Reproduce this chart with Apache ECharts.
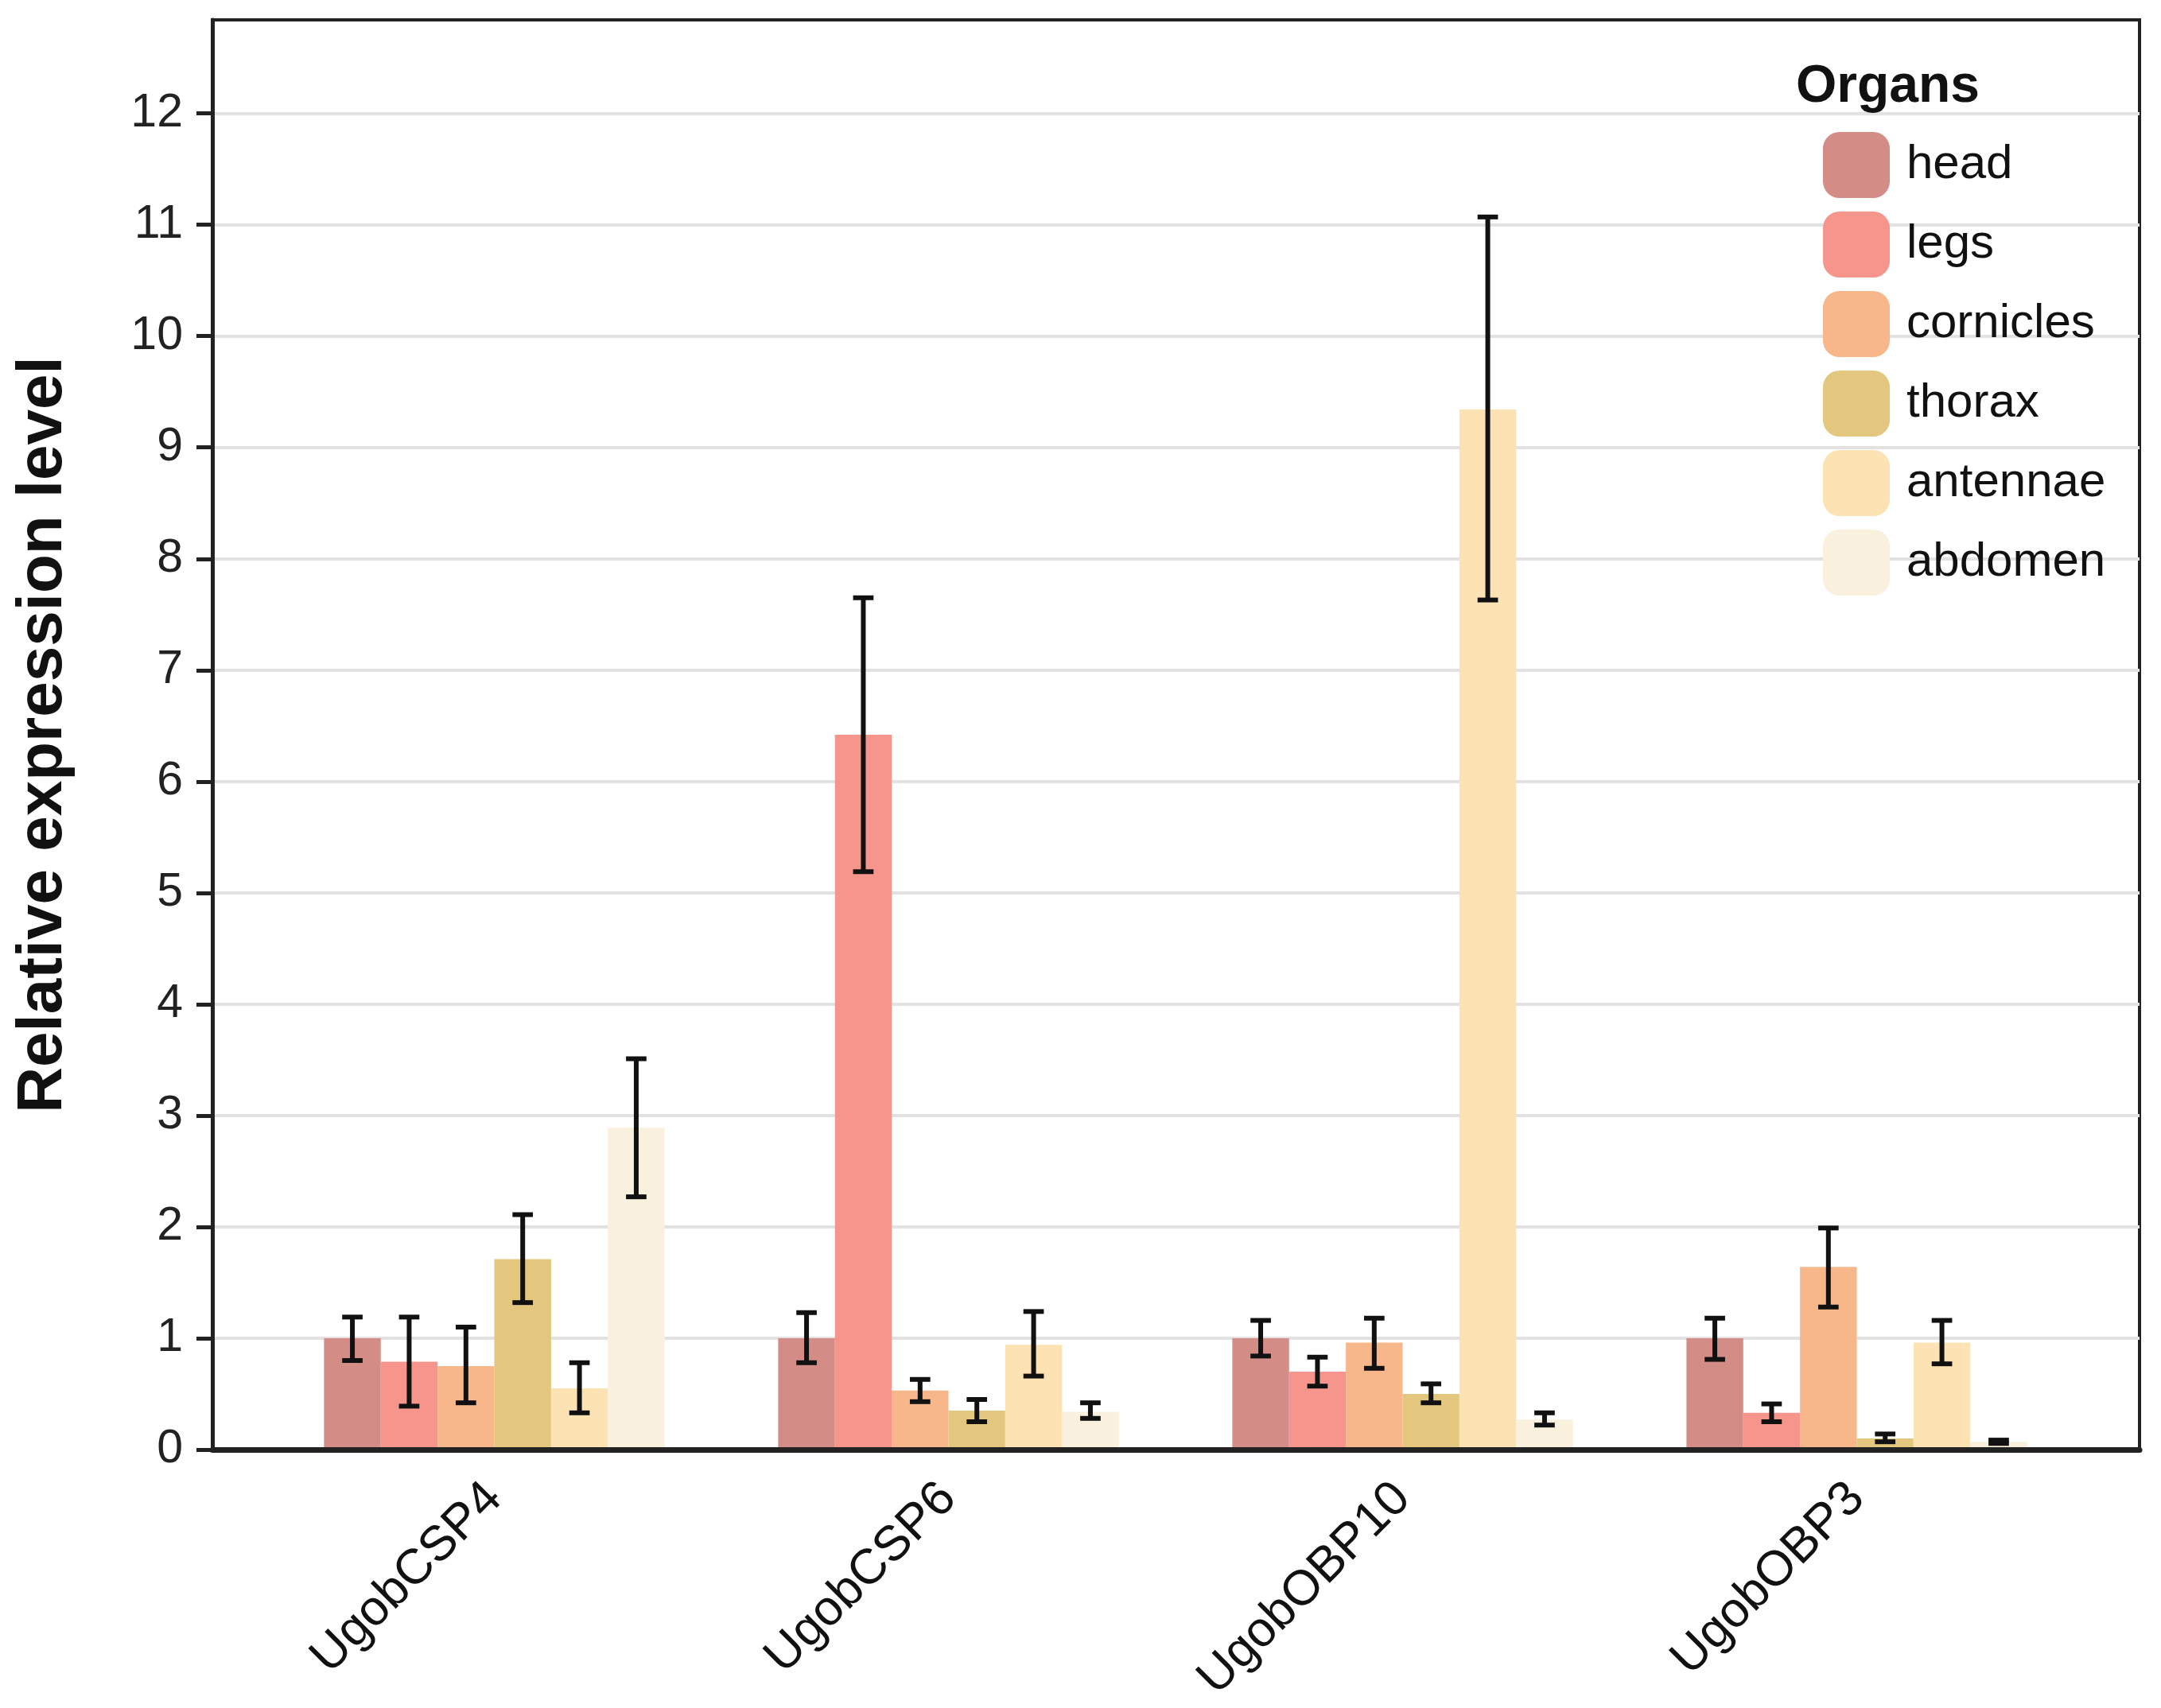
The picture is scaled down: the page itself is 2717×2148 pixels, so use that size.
<!DOCTYPE html>
<html>
<head>
<meta charset="utf-8">
<script src="https://cdn.jsdelivr.net/npm/echarts@6/dist/echarts.min.js"></script>
<style>
  html, body { margin: 0; padding: 0; background: #fff; }
  #main { width: 2717px; height: 2148px; }
</style>
</head>
<body>
<div id="main"></div>
<script>
var myChart = echarts.init(document.getElementById('main'));

var genes = ['UgobCSP4', 'UgobCSP6', 'UgobOBP10', 'UgobOBP3'];
var organs = ['head', 'legs', 'cornicles', 'thorax', 'antennae', 'abdomen'];
var colors = ['#D38C86', '#F6958C', '#F7B78A', '#E4C77F', '#FDE2B3', '#F9F0DE'];
var yTicks = [0, 1, 2, 3, 4, 5, 6, 7, 8, 9, 10, 11, 12];

// mean per gene
var head      = [1.00, 1.00, 1.00, 1.00];
var legs      = [0.79, 6.42, 0.70, 0.33];
var cornicles = [0.75, 0.53, 0.96, 1.64];
var thorax    = [1.71, 0.35, 0.50, 0.10];
var antennae  = [0.55, 0.94, 9.34, 0.96];
var abdomen   = [2.89, 0.34, 0.27, 0.07];

// error bar low / high
var headLo = [0.80, 0.78, 0.84, 0.81], headHi = [1.19, 1.23, 1.16, 1.18];
var legsLo = [0.39, 5.19, 0.57, 0.25], legsHi = [1.19, 7.65, 0.83, 0.41];
var cornLo = [0.42, 0.43, 0.73, 1.28], cornHi = [1.10, 0.63, 1.18, 1.99];
var thorLo = [1.32, 0.25, 0.42, 0.07], thorHi = [2.11, 0.45, 0.59, 0.14];
var anteLo = [0.33, 0.66, 7.63, 0.77], anteHi = [0.78, 1.24, 11.07, 1.16];
var abdoLo = [2.27, 0.28, 0.22, 0.055], abdoHi = [3.51, 0.42, 0.33, 0.085];

var means = [head, legs, cornicles, thorax, antennae, abdomen];
var lows = [headLo, legsLo, cornLo, thorLo, anteLo, abdoLo];
var highs = [headHi, legsHi, cornHi, thorHi, anteHi, abdoHi];

var yMax = 12.84;
var font = 'Liberation Sans, Arial, sans-serif';
var groupShare = 0.75;

var errData = [];
for (var o = 0; o < organs.length; o++) {
  for (var g = 0; g < genes.length; g++) {
    errData.push([g, o, lows[o][g], highs[o][g]]);
  }
}

var series = organs.map(function (name, i) {
  return {
    name: name,
    type: 'bar',
    xAxisIndex: 1,
    yAxisIndex: 1,
    data: means[i],
    color: colors[i],
    barGap: '0%',
    barCategoryGap: '25%',
    z: 2
  };
});

series.push({
  type: 'custom',
  name: 'err',
  xAxisIndex: 1,
  yAxisIndex: 1,
  z: 5,
  data: errData,
  renderItem: function (params, api) {
    var cat = api.value(0), org = api.value(1);
    var lo = api.coord([cat, api.value(2)]);
    var hi = api.coord([cat, api.value(3)]);
    var band = api.size([1, 0])[0];
    var bw = band * groupShare / organs.length;
    var x = lo[0] + (org - (organs.length - 1) / 2) * bw;
    var cap = bw * 0.18;
    var st = { stroke: '#111', lineWidth: 6 };
    return {
      type: 'group',
      children: [
        { type: 'line', shape: { x1: x, y1: lo[1], x2: x, y2: hi[1] }, style: st },
        { type: 'line', shape: { x1: x - cap, y1: lo[1], x2: x + cap, y2: lo[1] }, style: st },
        { type: 'line', shape: { x1: x - cap, y1: hi[1], x2: x + cap, y2: hi[1] }, style: st }
      ]
    };
  }
});

option = {
  backgroundColor: '#fff',
  animation: false,
  title: {
    text: 'Organs',
    left: 2258,
    top: 77,
    padding: 0,
    textStyle: { fontFamily: font, fontSize: 66, fontWeight: 'bold', color: '#111' }
  },
  legend: {
    data: organs,
    orient: 'vertical',
    left: 2292,
    top: 166,
    icon: 'roundRect',
    itemWidth: 84,
    itemHeight: 83,
    itemGap: 17,
    padding: 0,
    textStyle: { fontFamily: font, fontSize: 60, color: '#111', padding: [0, 0, 0, 16] }
  },
  grid: [
    { left: 267, right: 27, top: 25, bottom: 325, outerBoundsMode: 'none', containLabel: false,
      show: true, borderColor: '#222', borderWidth: 4 },
    { left: 336, right: 97, top: 25, bottom: 325, outerBoundsMode: 'none', containLabel: false }
  ],
  xAxis: [
    {
      gridIndex: 0,
      type: 'value',
      min: 0,
      max: 1,
      z: 10,
      axisLine: { show: true, lineStyle: { color: '#222', width: 7 } },
      axisTick: { show: false },
      axisLabel: { show: false },
      splitLine: { show: false }
    },
    {
      gridIndex: 1,
      type: 'category',
      data: genes,
      axisLine: { show: false },
      axisTick: { show: false },
      axisLabel: {
        rotate: 45,
        margin: 52,
        fontFamily: font,
        fontSize: 62,
        color: '#111'
      }
    }
  ],
  yAxis: [
    {
      gridIndex: 0,
      type: 'value',
      min: 0,
      max: yMax,
      interval: 1,
      name: 'Relative expression level',
      nameLocation: 'middle',
      nameRotate: 90,
      nameGap: 172,
      nameTextStyle: { fontFamily: font, fontSize: 80, fontWeight: 'bold', color: '#111' },
      axisLine: { show: true, lineStyle: { color: '#222', width: 5 } },
      axisTick: { show: true, length: 20, customValues: yTicks, lineStyle: { color: '#222', width: 5 } },
      axisLabel: { customValues: yTicks, margin: 37, fontFamily: font, fontSize: 59, color: '#222' },
      splitLine: { show: true, lineStyle: { color: '#E4E1E3', width: 4 } }
    },
    {
      gridIndex: 1,
      type: 'value',
      min: 0,
      max: yMax,
      show: false,
      splitLine: { show: false }
    }
  ],
  series: series
};

myChart.setOption(option);
</script>
</body>
</html>
